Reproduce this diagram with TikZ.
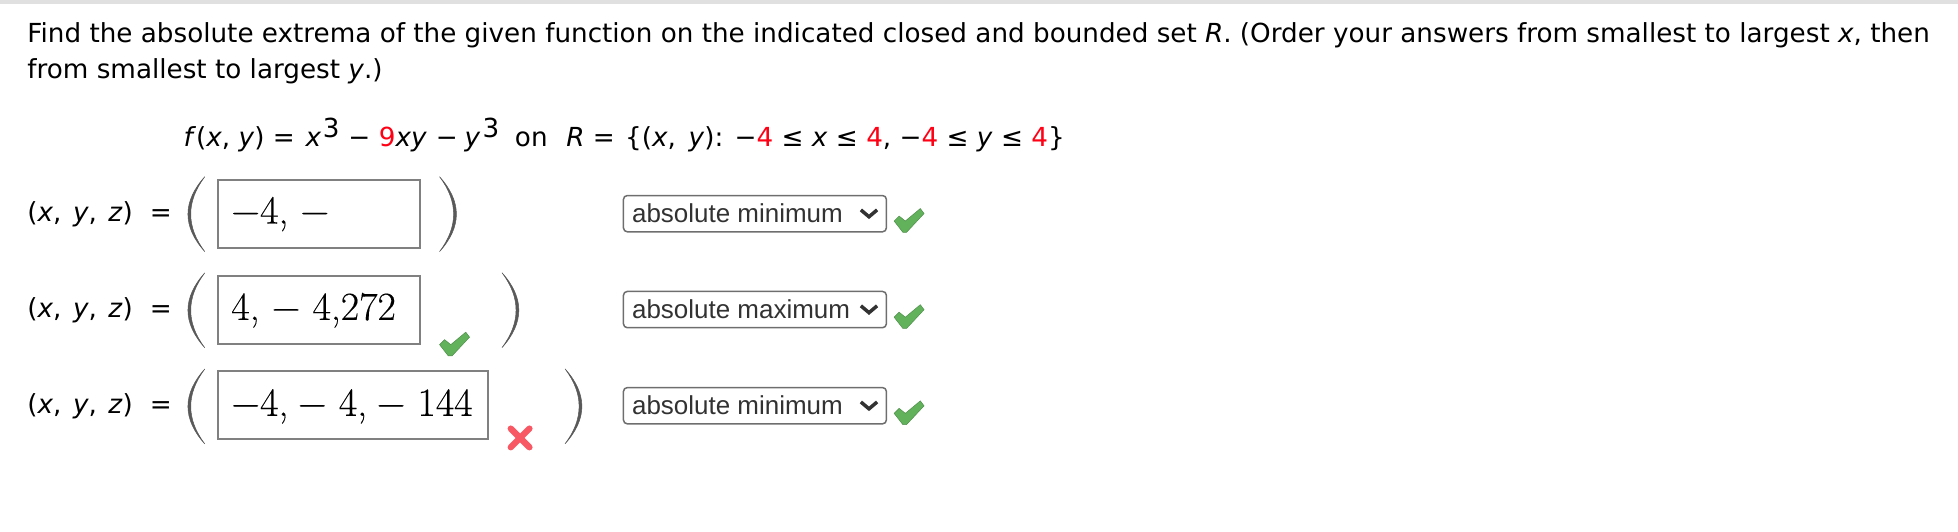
\documentclass[tikz,border=0pt]{standalone}
\usepackage{fontspec}
\setmainfont{DejaVu Sans}
\newfontfamily\arialfont{Liberation Sans}
\newfontfamily\mathfont[FakeBold=0.25]{Latin Modern Roman}
\usetikzlibrary{positioning}
\definecolor{boxgray}{RGB}{128,128,128}
\definecolor{selgray}{RGB}{110,110,110}
\definecolor{seltext}{RGB}{50,50,50}
\definecolor{okgreen}{RGB}{98,178,92}
\definecolor{badred}{RGB}{248,88,100}
\definecolor{numred}{RGB}{255,0,20}
\newcommand{\rd}[1]{\textcolor{numred}{#1}}
\newcommand{\itx}[1]{\textit{#1}}
\tikzset{
  x=1pt, y=-1pt,
  txt/.style={anchor=base west, inner sep=0pt, outer sep=0pt, font=\fontsize{21}{26}\selectfont},
  ansbox/.style={draw=boxgray, line width=1.3pt, anchor=north west, inner sep=0pt, minimum height=54.5pt},
  mathtxt/.style={anchor=base west, inner sep=0pt, font=\mathfont\fontsize{32}{36}\selectfont},
  selbox/.style={draw=selgray, line width=1.2pt, rounded corners=3pt, anchor=north west, inner sep=0pt, minimum width=210.5pt, minimum height=29pt},
  seltxt/.style={anchor=base west, inner sep=0pt, text=seltext, font=\arialfont\fontsize{20.8}{26}\selectfont},
  paren/.style={fill=black!65, draw=black!65, line width=.4pt},
  okmark/.style={fill=okgreen, draw=okgreen!80!black, line width=.4pt},
  badmark/.style={draw=badred, line width=5pt, line cap=round}
}
\newcommand{\okpic}[1]{\fill[okmark] (#1) ++(-12,1) -- ++(4,-4) -- ++(5,4) -- ++(12,-10) -- ++(3,4) -- ++(-14,15) -- ++(-3,0) -- cycle;}
\begin{document}
\begin{tikzpicture}
  \useasboundingbox (0,0) rectangle (1568,426);
  \fill[black!12] (0,0) rectangle (1568,3.5);

  % question
  \node (line1) [txt] at (22,34) {Find the absolute extrema of the given function on the indicated closed and bounded set \itx{R}. (Order your answers from smallest to largest \itx{x}, then};
  \node (line2) [txt] at (22,63) {from smallest to largest \itx{y}.)};

  % function
  \node (func) [txt] at (147,117.5) {\itx{f}(\itx{x}, \itx{y}) =\kern2pt{} \itx{x}};
  \node (pow1) [txt] at (258.5,110) {3};
  \node (minus1) [txt] at (279,117.5) {−};
  \node (coef) [txt] at (303.5,117.5) {\rd{9}\itx{xy}};
  \node (minus2) [txt] at (349,117.5) {−};
  \node (ypart) [txt] at (372,117.5) {\itx{y}};
  \node (pow2) [txt] at (386.5,110) {3};
  \node (on) [txt] at (412.4,117.5) {on};
  \node (set) [txt] at (453.5,117.5) {\itx{R} =};
  \node (setb) [txt] at (500.6,117.5) {\{(\itx{x},\, \itx{y}): −\rd{4} ≤ \itx{x} ≤ \rd{4}, −\rd{4} ≤ \itx{y} ≤ \rd{4}\}};

  % rows
  \foreach \name/\ypos in {a/177.5, b/254.5, c/331.5}{
    \node (lab\name) [txt] at (22,\ypos) {(\itx{x},\kern2.5pt{} \itx{y},\kern2.5pt{} \itx{z})\, \,=};
    \draw[paren] (164,\ypos-36) .. controls (146,\ypos-16) and (146,\ypos+4) .. (164,\ypos+24)
      .. controls (149,\ypos+4) and (149,\ypos-16) .. cycle;
  }
  \node (boxa) [ansbox, minimum width=161.5pt] at (174,143.3) {};
  \node (boxb) [ansbox, minimum width=161.5pt] at (174,220.3) {};
  \node (boxc) [ansbox, minimum width=216pt] at (174,296.3) {};
  \node (vala) [mathtxt] at (185,179) {−4, −};
  \node (valb) [mathtxt] at (185,256.2) {4, − 4,272};
  \node (valc) [mathtxt] at (185,333) {−4,\kern-2pt{} − 4,\kern-2pt{} − 144};

  % closing parens
  \foreach \xpos/\ypos in {352/141.5, 402/218.4, 452.5/295.4}{
    \draw[paren] (\xpos,\ypos) .. controls (\xpos+18,\ypos+20) and (\xpos+18,\ypos+40) .. (\xpos,\ypos+60)
      .. controls (\xpos+15,\ypos+40) and (\xpos+15,\ypos+20) .. cycle;
  }

  % selects
  \node (sela) [selbox] at (498.7,156) {};
  \node (selb) [selbox] at (498.7,232.8) {};
  \node (selc) [selbox] at (498.7,309.8) {};
  \node (tsela) [seltxt] at (506,178) {absolute minimum};
  \node (tselb) [seltxt] at (506,255) {absolute maximum};
  \node (tselc) [seltxt] at (506,332) {absolute minimum};
  \foreach \s in {sela,selb,selc}{
    \draw[line width=2.8pt, seltext] ([xshift=-21pt,yshift=3pt]\s.east) -- ++(6.5,5.5) -- ++(6.5,-5.5);
  }

  % marks
  \okpic{728,176}
  \okpic{728,253}
  \okpic{728,330}
  \okpic{364,275}
  \draw[badmark] (409,343.2) -- (424,358.2);
  \draw[badmark] (424,343.2) -- (409,358.2);
\end{tikzpicture}
\end{document}
